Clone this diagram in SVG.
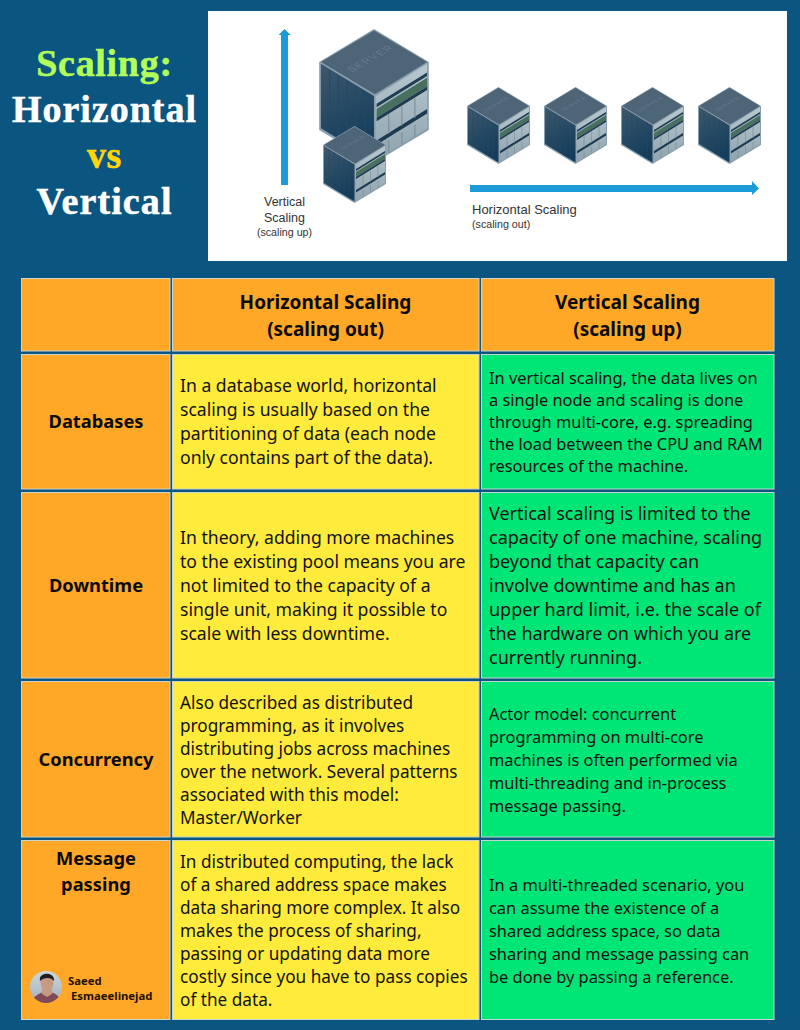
<svg xmlns="http://www.w3.org/2000/svg" xmlns:xlink="http://www.w3.org/1999/xlink" width="800" height="1030" viewBox="0 0 800 1030">
<style>
.t{font-family:"Liberation Serif","DejaVu Serif",serif;font-weight:700;font-size:38px;text-anchor:middle;stroke-width:.5px}
.cell{stroke:#c9d3d0;stroke-width:1}
.o{fill:#ffa726}.y{fill:#ffeb3b}.g{fill:#00e676}
.h{font-family:"Noto Sans",sans-serif;font-weight:700;font-size:19px;text-anchor:middle;fill:#0b0b0b}
.l{font-family:"Noto Sans",sans-serif;font-weight:700;font-size:18.300px;text-anchor:middle;fill:#0b0b0b}
.b{font-family:"Noto Sans",sans-serif;font-size:17.600px;fill:#121212}
.d{font-family:"Noto Sans",sans-serif;font-size:18px;fill:#121212}
.c{font-family:"Noto Sans",sans-serif;font-size:17.200px;fill:#121212}
.s{font-family:"Noto Sans",sans-serif;font-size:16.400px;fill:#121212}
.a{font-family:"Liberation Sans",sans-serif;fill:#333}
.n{font-family:"Noto Sans",sans-serif;font-weight:700;font-size:11.300px;fill:#241004}
</style>
<defs>
<linearGradient id="lf" x1="0" y1="0" x2="0.3" y2="1"><stop offset="0" stop-color="#3e586c"/><stop offset="1" stop-color="#143d5c"/></linearGradient>
<linearGradient id="rf" x1="0" y1="0" x2="0" y2="1"><stop offset="0" stop-color="#b9c8cf"/><stop offset="1" stop-color="#8ea3ae"/></linearGradient>
<linearGradient id="av" x1="0" y1="0" x2="0" y2="1"><stop offset="0" stop-color="#ccd6dd"/><stop offset="1" stop-color="#a3afba"/></linearGradient>
<clipPath id="avc"><circle cx="46" cy="987" r="16"/></clipPath>
<symbol id="cube" viewBox="0 0 63 77" overflow="hidden">
<path d="M31.500 0L63 19V58L31.500 77L0 58V19Z" fill="#8aa0ae"/>
<path d="M31.500 .8L62 19L32 37.500L1 19Z" fill="#4e6477"/>
<path d="M1 20L31.500 38.500V75.500L1 57Z" fill="url(#lf)"/>
<path d="M32.500 38.500L62 20V57L32.500 75.500Z" fill="url(#rf)"/>
<path d="M6 23.500V60M11 26.500V63M16 29.500V66M21 32.500V69M26 35.500V72" stroke="#234a66" stroke-width=".6" fill="none"/>
<path d="M33 43L62 25V27L33 45Z" fill="#223e54"/>
<path d="M33 46L62 28V33L33 51Z" fill="#47705f"/>
<path d="M33 51L62 33V35L33 53Z" fill="#1f3b51"/>
<path d="M33 64L62 46V48.500L33 66.500Z" fill="#1c3a50"/>
<path d="M40 49V60M47.500 44.500V55.500M55 40V51M40 64V71M47.500 59.500V66.500M55 55V62" stroke="#7c909c" stroke-width=".7" fill="none"/>
<text transform="matrix(.87 -.5 .87 .5 19 25)" font-family="Liberation Sans,sans-serif" font-size="6" fill="#657b8d" letter-spacing=".6">SERVER</text>
</symbol>
</defs>
<rect width="800" height="1030" fill="#0b5581"/>
<g id="title">
<text class="t" x="104.500" y="76" fill="#b2ff59" stroke="#b2ff59" letter-spacing=".7">Scaling:</text>
<text class="t" x="104.500" y="122" fill="#fff" stroke="#fff" letter-spacing="1">Horizontal</text>
<text class="t" x="104.500" y="168" fill="#ffd60a" stroke="#ffd60a" letter-spacing=".5">vs</text>
<text class="t" x="104.500" y="214" fill="#fff" stroke="#fff" letter-spacing="1.100">Vertical</text>
</g>
<g id="scaling-picture">
<rect x="208" y="11" width="579" height="250" fill="#fff"/>
<use xlink:href="#cube" href="#cube" x="319" y="29" width="110" height="134"/>
<use xlink:href="#cube" href="#cube" x="323" y="126" width="63" height="77"/>
<use xlink:href="#cube" href="#cube" x="467" y="87" width="63" height="77"/>
<use xlink:href="#cube" href="#cube" x="544" y="87" width="63" height="77"/>
<use xlink:href="#cube" href="#cube" x="621" y="87" width="63" height="77"/>
<use xlink:href="#cube" href="#cube" x="698" y="87" width="63" height="77"/>
<path d="M281 185V35H278.500L284.500 29L290.700 35H288V185Z" fill="#1b9cd8"/>
<path d="M470 185H752V181L759 188.500L752 195V192H470Z" fill="#1b9cd8"/>
<text class="a" font-size="12.500" text-anchor="middle" x="284.500" y="206">Vertical</text>
<text class="a" font-size="12.500" text-anchor="middle" x="284.500" y="222">Scaling</text>
<text class="a" font-size="10.700" text-anchor="middle" x="284.500" y="236">(scaling up)</text>
<text class="a" font-size="13" x="472" y="214">Horizontal Scaling</text>
<text class="a" font-size="10.700" x="472" y="228">(scaling out)</text>
</g>
<g id="cells">
<rect class="cell o" x="21.500" y="278.500" width="148.500" height="72.500"/>
<rect class="cell o" x="172.500" y="278.500" width="306.500" height="72.500"/>
<rect class="cell o" x="481.500" y="278.500" width="292.500" height="72.500"/>
<rect class="cell o" x="21.500" y="354.500" width="148.500" height="134.500"/>
<rect class="cell y" x="172.500" y="354.500" width="306.500" height="134.500"/>
<rect class="cell g" x="481.500" y="354.500" width="292.500" height="134.500"/>
<rect class="cell o" x="21.500" y="492.500" width="148.500" height="185.500"/>
<rect class="cell y" x="172.500" y="492.500" width="306.500" height="185.500"/>
<rect class="cell g" x="481.500" y="492.500" width="292.500" height="185.500"/>
<rect class="cell o" x="21.500" y="681.500" width="148.500" height="155.500"/>
<rect class="cell y" x="172.500" y="681.500" width="306.500" height="155.500"/>
<rect class="cell g" x="481.500" y="681.500" width="292.500" height="155.500"/>
<rect class="cell o" x="21.500" y="840.500" width="148.500" height="179"/>
<rect class="cell y" x="172.500" y="840.500" width="306.500" height="179"/>
<rect class="cell g" x="481.500" y="840.500" width="292.500" height="179"/>
</g>
<g id="header">
<text class="h" x="325.500" y="309">Horizontal Scaling</text>
<text class="h" x="325.500" y="336">(scaling out)</text>
<text class="h" x="627.500" y="309">Vertical Scaling</text>
<text class="h" x="627.500" y="336">(scaling up)</text>
</g>
<g id="row-databases">
<text class="l" x="96" y="428">Databases</text>
<text class="b" x="180" y="392">In a database world, horizontal</text>
<text class="b" x="180" y="416">scaling is usually based on the</text>
<text class="b" x="180" y="440">partitioning of data (each node</text>
<text class="b" x="180" y="464">only contains part of the data).</text>
<text class="s" x="489" y="384">In vertical scaling, the data lives on</text>
<text class="s" x="489" y="406">a single node and scaling is done</text>
<text class="s" x="489" y="428">through multi-core, e.g. spreading</text>
<text class="s" x="489" y="450">the load between the CPU and RAM</text>
<text class="s" x="489" y="472">resources of the machine.</text>
</g>
<g id="row-downtime">
<text class="l" x="96" y="592">Downtime</text>
<text class="b" x="180" y="544">In theory, adding more machines</text>
<text class="b" x="180" y="568">to the existing pool means you are</text>
<text class="b" x="180" y="592">not limited to the capacity of a</text>
<text class="b" x="180" y="616">single unit, making it possible to</text>
<text class="b" x="180" y="640">scale with less downtime.</text>
<text class="d" x="489" y="520">Vertical scaling is limited to the</text>
<text class="d" x="489" y="544">capacity of one machine, scaling</text>
<text class="d" x="489" y="568">beyond that capacity can</text>
<text class="d" x="489" y="592">involve downtime and has an</text>
<text class="d" x="489" y="616">upper hard limit, i.e. the scale of</text>
<text class="d" x="489" y="640">the hardware on which you are</text>
<text class="d" x="489" y="664">currently running.</text>
</g>
<g id="row-concurrency">
<text class="l" x="96" y="766">Concurrency</text>
<text class="c" x="180" y="709">Also described as distributed</text>
<text class="c" x="180" y="732">programming, as it involves</text>
<text class="c" x="180" y="755">distributing jobs across machines</text>
<text class="c" x="180" y="778">over the network. Several patterns</text>
<text class="c" x="180" y="801">associated with this model:</text>
<text class="c" x="180" y="824">Master/Worker</text>
<text class="s" x="489" y="720">Actor model: concurrent</text>
<text class="s" x="489" y="743">programming on multi-core</text>
<text class="s" x="489" y="766">machines is often performed via</text>
<text class="s" x="489" y="789">multi-threading and in-process</text>
<text class="s" x="489" y="812">message passing.</text>
</g>
<g id="row-message-passing">
<text class="l" x="96" y="865">Message</text>
<text class="l" x="96" y="891">passing</text>
<text class="c" x="180" y="868">In distributed computing, the lack</text>
<text class="c" x="180" y="891">of a shared address space makes</text>
<text class="c" x="180" y="914">data sharing more complex. It also</text>
<text class="c" x="180" y="937">makes the process of sharing,</text>
<text class="c" x="180" y="960">passing or updating data more</text>
<text class="c" x="180" y="983">costly since you have to pass copies</text>
<text class="c" x="180" y="1006">of the data.</text>
<text class="s" x="489" y="891">In a multi-threaded scenario, you</text>
<text class="s" x="489" y="914">can assume the existence of a</text>
<text class="s" x="489" y="937">shared address space, so data</text>
<text class="s" x="489" y="960">sharing and message passing can</text>
<text class="s" x="489" y="983">be done by passing a reference.</text>
</g>
<g id="author">
<circle cx="46" cy="987" r="16" fill="url(#av)"/>
<g clip-path="url(#avc)">
<path d="M31 1004C33 995 41 992 47 992C54 992 60 995 62 1004Z" fill="#7d4a55"/>
<path d="M42 988H52V994L47 997L42 994Z" fill="#c39a86"/>
<ellipse cx="47" cy="982.500" rx="6.500" ry="8" fill="#c99a83"/>
<path d="M40 981C38 972 55 971 54 981C51 977 44 977 40 981Z" fill="#1f1d22"/>
</g>
<text class="n" x="68" y="985">Saeed</text>
<text class="n" x="71" y="1000">Esmaeelinejad</text>
</g>
</svg>
